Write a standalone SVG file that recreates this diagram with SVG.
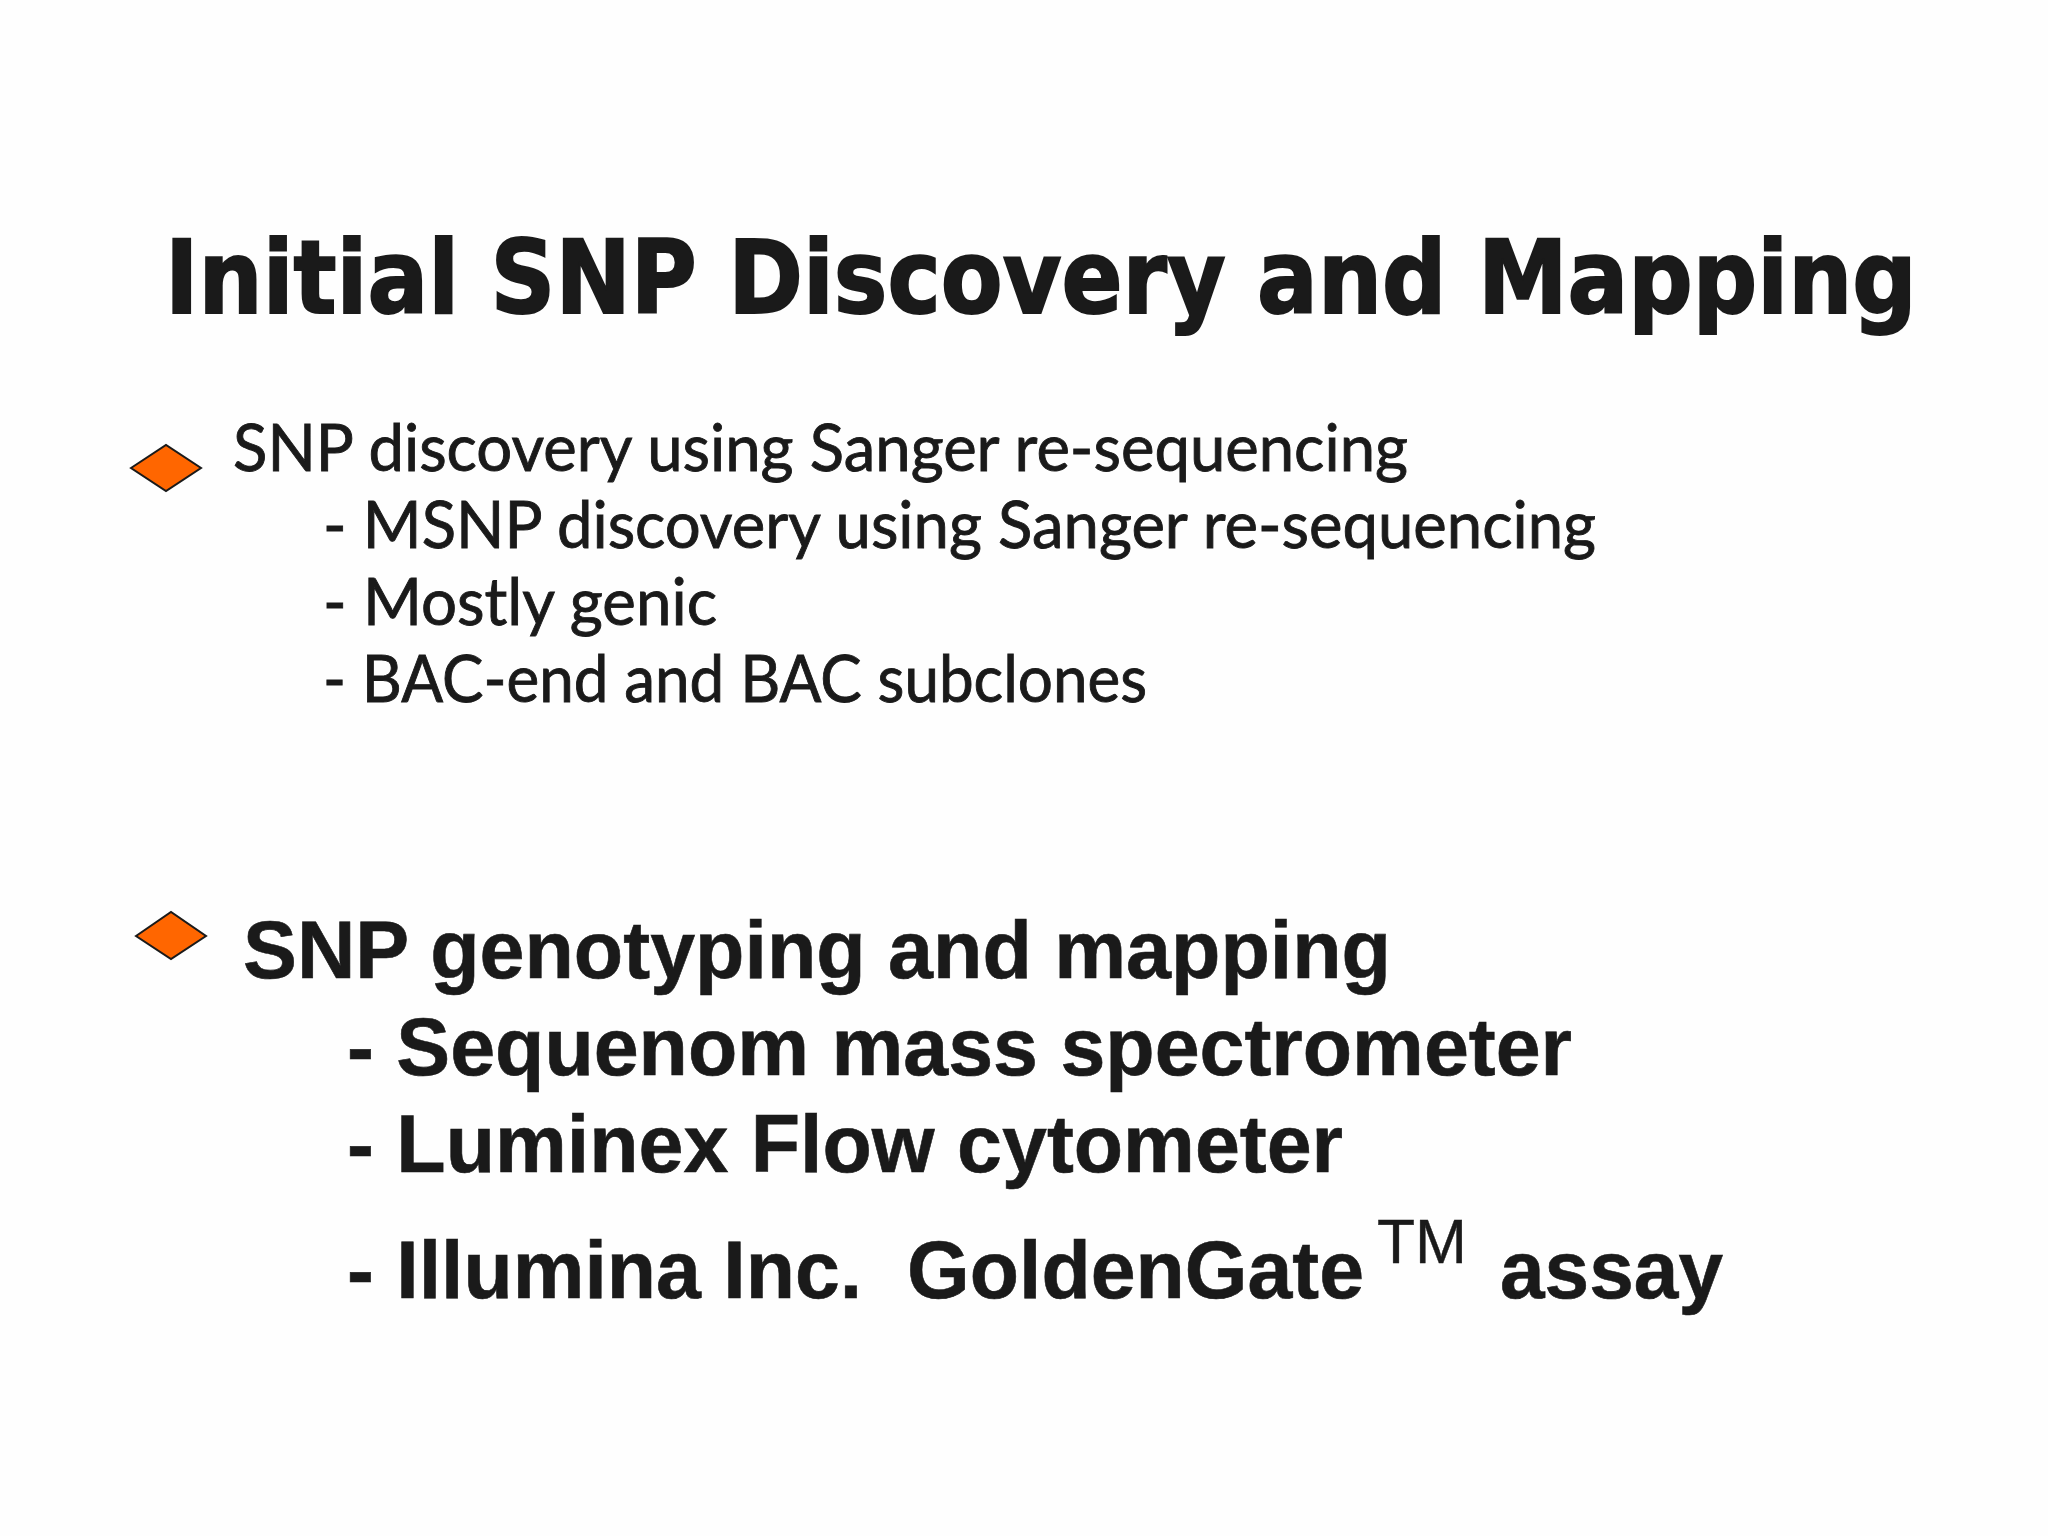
<svg xmlns="http://www.w3.org/2000/svg" width="2048" height="1536" viewBox="0 0 2048 1536">
<style>
text{fill:#1a1a1a;white-space:pre}
.t{font:bold 101px "DejaVu Sans",sans-serif;stroke:#1a1a1a;stroke-width:2}
.c{font:65px Lato,"Noto Sans",sans-serif;stroke:#1a1a1a;stroke-width:.9}
.b{font:bold 81px "Liberation Sans",Arial,sans-serif;stroke:#1a1a1a;stroke-width:.6}
.r{font:63px "Liberation Sans",Arial,sans-serif;stroke:#1a1a1a;stroke-width:.4}
.d{fill:#ff6600;stroke:#1a1a1a;stroke-width:2}
</style>
<rect width="2048" height="1536" fill="#fefefe"/>
<g id="title"><text class="t" transform="translate(165 313) scale(.86 1)" textLength="2037" lengthAdjust="spacingAndGlyphs">Initial SNP Discovery and Mapping</text></g>
<g id="block-discovery">
<polygon class="d" points="131,468 166,445 201,468 166,491"/>
<text class="c" x="233" y="471" textLength="1175" lengthAdjust="spacingAndGlyphs">SNP discovery using Sanger re-sequencing</text>
<text class="c" x="323" y="548" textLength="1273" lengthAdjust="spacingAndGlyphs">- MSNP discovery using Sanger re-sequencing</text>
<text class="c" x="323" y="625" textLength="394" lengthAdjust="spacingAndGlyphs">- Mostly genic</text>
<text class="c" x="323" y="702" textLength="824" lengthAdjust="spacingAndGlyphs">- BAC-end and BAC subclones</text>
</g>
<g id="block-genotyping">
<polygon class="d" points="136,936 171,912 206,936 171,959"/>
<text class="b" x="243" y="978" textLength="1148" lengthAdjust="spacingAndGlyphs">SNP genotyping and mapping</text>
<text class="b" x="347" y="1075" textLength="1225" lengthAdjust="spacingAndGlyphs">- Sequenom mass spectrometer</text>
<text class="b" x="347" y="1172" textLength="996" lengthAdjust="spacingAndGlyphs">- Luminex Flow cytometer</text>
<text class="b" x="347" y="1298" textLength="1017" lengthAdjust="spacingAndGlyphs">- Illumina Inc.  GoldenGate</text>
<text class="r" x="1377" y="1263" textLength="90" lengthAdjust="spacingAndGlyphs">TM</text>
<text class="b" x="1500" y="1298" textLength="223" lengthAdjust="spacingAndGlyphs">assay</text>
</g>
</svg>
